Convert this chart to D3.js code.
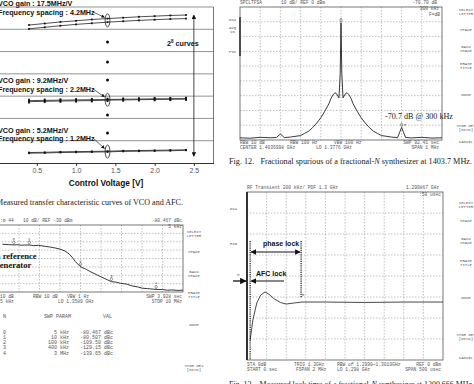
<!DOCTYPE html>
<html>
<head>
<meta charset="utf-8">
<script src="https://cdn.jsdelivr.net/npm/d3@7"></script>
<style>
  body { margin: 0; background: #fff; }
  svg { display: block; }
  .sans { font-family: "Liberation Sans", Arial, sans-serif; font-weight: bold; fill: #111; }
  .serif { font-family: "Liberation Serif", "Times New Roman", serif; fill: #222; }
  .mono { font-family: "Liberation Mono", "DejaVu Sans Mono", monospace; fill: #555; font-size: 4.6px; }
  .tick text { font-family: "Liberation Sans", Arial, sans-serif; font-size: 7px; fill: #555; }
</style>
</head>
<body>
<svg id="chart" width="474" height="384"></svg>
<script>
// ---- VCO / AFC transfer curves (top left)
var voltage = [0.4, 0.6, 0.8, 1.0, 1.2, 1.4, 1.6, 1.8, 2.0, 2.2, 2.4];
var vcoHiA  = [1619, 1626, 1633, 1638, 1644, 1648, 1652, 1656, 1659, 1662, 1664];
var vcoHiB  = [1602, 1609, 1616, 1622, 1627, 1632, 1636, 1640, 1643, 1646, 1648];
var vcoMidA = [1280, 1281, 1282, 1283, 1284, 1285, 1286, 1287, 1288, 1288, 1289];
var vcoMidB = [1275, 1277, 1278, 1279, 1280, 1282, 1283, 1284, 1285, 1286, 1287];
var vcoLoA  = [1047, 1048, 1050, 1051, 1052, 1053, 1055, 1056, 1057, 1058, 1059];
var vcoLoB  = [1044, 1045, 1047, 1048, 1049, 1050, 1052, 1053, 1054, 1055, 1057];
var skipDots = [1543, 1453, 1372, 1215, 1135];
var voltTicks = [0.5, 1.0, 1.5, 2.0, 2.5];
var gainLabels = ["VCO gain : 17.5MHz/V", "VCO gain : 9.2MHz/V", "VCO gain : 5.2MHz/V"];
var spacingLabels = ["Frequency spacing : 4.2MHz", "Frequency spacing : 2.2MHz", "Frequency spacing : 1.2MHz"];

// ---- phase noise sweep (bottom left)
var pnFreq = [3e3, 4e3, 5e3, 6e3, 7e3, 8e3, 1e4, 1.2e4, 1.5e4, 2e4, 2.5e4, 3e4, 4e4, 5e4, 6e4, 7e4, 8e4, 1e5,
              1.3e5, 1.6e5, 2e5, 2.5e5, 3e5, 4e5, 5e5, 6e5, 8e5, 1e6, 1.3e6, 1.6e6, 2e6, 3e6, 4e6, 5e6, 6e6, 8e6, 1e7];
var pnLevel = [-79.6, -80.1, -80.5, -80.2, -80.9, -80.6, -80.5, -81.4, -81.0, -82.3, -83.2, -84.1, -86.0, -88.7, -92.4, -97.5, -102.8, -109.5,
               -113.0, -116.4, -119.6, -122.8, -125.3, -129.2, -130.0, -131.4, -132.5, -134.8, -136.2, -137.9, -138.5, -139.6, -139.8, -140.6, -140.2, -140.9, -140.5];
var markFreq = [5e3, 1e4, 1e5, 4e5, 3e6];
var markLevel = [-80.467, -80.507, -109.50, -129.15, -139.65];
var markParam = ["5 kHz", "10 kHz", "100 kHz", "400 kHz", "3 MHz"];
var markVal = ["-80.467 dBc", "-80.507 dBc", "-109.50 dBc", "-129.15 dBc", "-139.65 dBc"];

// ---- fractional spurious spectrum (top right), offset kHz / dB
var spOffset = [-500, -450, -400, -350, -320, -300, -280, -250, -200, -180, -160, -140, -120, -100, -80, -60, -50, -40, -30, -20, -10, -4, 0,
                4, 10, 20, 30, 40, 50, 60, 80, 100, 120, 140, 160, 180, 200, 250, 280, 300, 320, 350, 400, 450, 500];
var spLevel = [-88.5, -88.8, -88.2, -88.5, -88.3, -86.0, -88.4, -88.0, -87.0, -85.5, -84.0, -81.5, -78.5, -75.0, -70.5, -65.5, -62.0, -59.5, -58.0, -59.0, -61.5, -45.0, -10.8,
               -45.0, -61.5, -59.0, -58.0, -59.5, -62.0, -65.5, -70.5, -75.0, -78.5, -81.5, -84.0, -85.5, -87.0, -88.0, -88.4, -81.5, -88.3, -88.6, -88.2, -88.7, -88.5];

// ---- lock transient (bottom right), time usec / freq offset kHz
var ltTime = [8, 15, 25, 35, 46, 55, 70, 85, 100, 120, 140, 200, 300, 400, 500];
var ltFreq = [-610, -419, -257, -181, -152, -171, -219, -252, -267, -257, -248, -248, -252, -248, -248];

var softKeys = [["SELECT", "LETTER"], ["SPACE"], ["BACK", "SPACE"], ["ERASE", "TITLE"], ["DONE"], ["STOR DEV", "[DISK]"], ["CANCEL"]];

var svg = d3.select("#chart");
svg.append("rect").attr("width", 474).attr("height", 384).attr("fill", "#fff");

var defs = svg.append("defs");
defs.append("marker").attr("id", "ah").attr("viewBox", "0 0 10 10")
  .attr("refX", 9).attr("refY", 5).attr("markerWidth", 5).attr("markerHeight", 5)
  .attr("orient", "auto-start-reverse")
  .append("path").attr("d", "M0,0L10,5L0,10z").attr("fill", "#111");

function txt(g, x, y, s, cls, anchor) {
  return g.append("text").attr("x", x).attr("y", y).attr("class", cls)
    .attr("text-anchor", anchor || "start").text(s);
}

function keys(g, cx, ys) {
  softKeys.forEach(function (k, i) {
    k.forEach(function (line, j) {
      txt(g, cx, ys[i] + j * 4, line, "mono", "middle").style("font-size", "4px");
    });
  });
}

function grid(g, xs, ys, x0, x1, y0, y1) {
  g.selectAll(null).data(xs).enter().append("line")
    .attr("x1", function (d) { return d; }).attr("x2", function (d) { return d; })
    .attr("y1", y0).attr("y2", y1)
    .attr("stroke", "#999").attr("stroke-width", 0.6).attr("stroke-dasharray", "1.5,1.5");
  g.selectAll(null).data(ys).enter().append("line")
    .attr("x1", x0).attr("x2", x1)
    .attr("y1", function (d) { return d; }).attr("y2", function (d) { return d; })
    .attr("stroke", "#999").attr("stroke-width", 0.6).attr("stroke-dasharray", "1.5,1.5");
  g.append("rect").attr("x", x0).attr("y", y0).attr("width", x1 - x0).attr("height", y1 - y0)
    .attr("fill", "none").attr("stroke", "#555").attr("stroke-width", 0.8);
}

// =================== VCO chart
var xV = d3.scaleLinear().domain([0, 2.75]).range([-2.4, 213.5]);
var yV = d3.scaleLinear().domain([1000, 1700]).range([163, 7]);
var g1 = svg.append("g");

g1.selectAll(null).data(d3.range(1100, 1701, 100)).enter().append("line")
  .attr("x1", xV(0)).attr("x2", xV(2.75))
  .attr("y1", function (d) { return yV(d); }).attr("y2", function (d) { return yV(d); })
  .attr("stroke", "#777").attr("stroke-width", 0.8);
g1.append("line").attr("x1", xV(2.75)).attr("x2", xV(2.75)).attr("y1", yV(1700)).attr("y2", yV(1000))
  .attr("stroke", "#555").attr("stroke-width", 0.8);

var ax = g1.append("g").attr("transform", "translate(0," + yV(1000) + ")")
  .call(d3.axisBottom(xV).tickValues(voltTicks).tickFormat(d3.format(".1f"))
    .tickSize(3).tickSizeOuter(0).tickPadding(2));
ax.select(".domain").attr("stroke", "#333");
ax.selectAll(".tick line").attr("stroke", "#333");

var vLine = d3.line().x(function (d, i) { return xV(voltage[i]); }).y(function (d) { return yV(d); });
[vcoHiA, vcoHiB, vcoMidA, vcoMidB, vcoLoA, vcoLoB].forEach(function (s, k) {
  g1.append("path").attr("d", vLine(s)).attr("fill", "none").attr("stroke", "#222").attr("stroke-width", 0.8);
  g1.selectAll(null).data(s).enter().append("rect")
    .attr("x", function (d, i) { return xV(voltage[i]) - 0.9; })
    .attr("y", function (d) { return yV(d) - (k === 2 || k === 3 ? 1.8 : 0.9); })
    .attr("width", 1.8).attr("height", k === 2 || k === 3 ? 3.6 : 1.8).attr("fill", "#111");
});

g1.selectAll(null).data(skipDots).enter().append("circle")
  .attr("cx", xV(1.4)).attr("cy", function (d) { return yV(d); }).attr("r", 1.5).attr("fill", "#111");

var pairs = [[vcoHiA, vcoHiB], [vcoMidA, vcoMidB], [vcoLoA, vcoLoB]];
var textBase = [[6, 15], [83, 92], [133, 141]];
pairs.forEach(function (p, k) {
  var cy = yV((p[0][5] + p[1][5]) / 2);
  g1.append("ellipse").attr("cx", xV(1.4)).attr("cy", cy).attr("rx", 2.4).attr("ry", 6.5)
    .attr("fill", "none").attr("stroke", "#222").attr("stroke-width", 0.8);
  txt(g1, -2, textBase[k][0], gainLabels[k], "sans").style("font-size", "7.2px");
  txt(g1, -2, textBase[k][1], spacingLabels[k], "sans").style("font-size", "7.2px");
  g1.append("line").attr("x1", 93).attr("y1", textBase[k][1] - 3)
    .attr("x2", xV(1.4) - 3).attr("y2", cy - 3)
    .attr("stroke", "#222").attr("stroke-width", 0.7).attr("marker-end", "url(#ah)");
});

g1.append("line").attr("x1", xV(2.5)).attr("x2", xV(2.5))
  .attr("y1", yV(d3.max(vcoHiA)) ).attr("y2", yV(d3.min(vcoLoB)) + 3)
  .attr("stroke", "#333").attr("stroke-width", 0.9)
  .attr("marker-start", "url(#ah)").attr("marker-end", "url(#ah)");
var c8 = g1.append("text").attr("x", 167).attr("y", 46).attr("class", "sans").style("font-size", "7.2px");
c8.append("tspan").text("2");
c8.append("tspan").attr("dy", -3).style("font-size", "4.5px").text("8");
c8.append("tspan").attr("dy", 3).text(" curves");

txt(g1, 106, 186, "Control Voltage [V]", "sans", "middle").style("font-size", "8.3px");
txt(g1, -4, 205, "Measured transfer characteristic curves of VCO and AFC.", "serif")
  .style("font-size", "8px").attr("textLength", 187).attr("lengthAdjust", "spacingAndGlyphs");

// =================== phase noise sweep
var pnX = d3.scaleLog().domain([1e3, 1e7]).range([-22, 183]);
var pnY = d3.scaleLinear().domain([-143, -54]).range([292, 225]);
var g2 = svg.append("g");
var div10 = d3.scaleLinear().domain([0, 10]).range(pnX.range());
var div8 = d3.scaleLinear().domain([0, 8]).range(pnY.range());
grid(g2, d3.range(1, 10).map(div10), d3.range(1, 8).map(div8), pnX.range()[0], pnX.range()[1], 225, 292);

g2.append("path").attr("d", d3.line().x(function (d, i) { return pnX(pnFreq[i]); }).y(function (d) { return pnY(d); })(pnLevel))
  .attr("fill", "none").attr("stroke", "#222").attr("stroke-width", 0.9);
markFreq.forEach(function (f, i) {
  var x = pnX(f), y = pnY(markLevel[i]);
  g2.append("path").attr("d", "M" + x + "," + (y - 4.5) + "l1.3,2l-1.3,2l-1.3,-2z")
    .attr("fill", "none").attr("stroke", "#333").attr("stroke-width", 0.5);
  txt(g2, x, y - 5, String(i), "mono", "middle").style("font-size", "4px");
});

txt(g2, 0, 222, ":m 44", "mono");
txt(g2, 23, 222, "10 dB/ REF -30 dBm", "mono");
txt(g2, 182, 222, "-80.467 dBc", "mono", "end");
txt(g2, 182, 227.5, "5 kHz", "mono", "end");
txt(g2, 0, 297.5, "10 dB", "mono");
txt(g2, 33, 297.5, "RBW 10 dB", "mono");
txt(g2, 67, 297.5, "VBW 1 Hz", "mono");
txt(g2, 182, 297.5, "SWP 3.928 sec", "mono", "end");
txt(g2, 0, 302.5, "5 kHz", "mono");
txt(g2, 58, 302.5, "LO 1.3589 GHz", "mono");
txt(g2, 182, 302.5, "STOP 10 MHz", "mono", "end");

txt(g2, 3, 318, "N", "mono").style("font-size", "5px");
txt(g2, 44, 318, "SWP PARAM", "mono").style("font-size", "5px");
txt(g2, 103, 318, "VAL", "mono").style("font-size", "5px");
markParam.forEach(function (p, i) {
  var y = 333.5 + i * 5.3;
  txt(g2, 3, y, String(i), "mono").style("font-size", "5px");
  txt(g2, 69, y, p, "mono", "end").style("font-size", "5px");
  txt(g2, 80, y, markVal[i], "mono").style("font-size", "5px");
});

var refT = g2.append("text").attr("class", "serif").style("font-size", "8.6px").style("font-weight", "bold").style("fill", "#111");
refT.append("tspan").attr("x", -21).attr("y", 259).text("Clean reference");
refT.append("tspan").attr("x", -4.5).attr("y", 268).text("generator");

keys(g2, 194, [233, 253, 273, 294, 326, 367, 400]);

// =================== spurious spectrum
var spX = d3.scaleLinear().domain([-500, 500]).range([240, 442]);
var spY = d3.scaleLinear().domain([-90, 0]).range([140, 7]);
var g3 = svg.append("g");
grid(g3, d3.range(-400, 500, 100).map(spX), d3.range(-80, 0, 10).map(spY), 240, 442, 7, 140);
g3.append("line").attr("x1", 240).attr("x2", 240).attr("y1", 17).attr("y2", 56)
  .attr("stroke", "#333").attr("stroke-width", 1.6);
g3.append("path").attr("d", d3.line().x(function (d, i) { return spX(spOffset[i]); }).y(function (d) { return spY(d); })(spLevel))
  .attr("fill", "none").attr("stroke", "#222").attr("stroke-width", 0.9);
g3.append("path").attr("d", "M" + spX(0) + "," + (spY(-10.8) - 5) + "l1.3,2.2l-1.3,2.2l-1.3,-2.2z")
  .attr("fill", "none").attr("stroke", "#333").attr("stroke-width", 0.5);
g3.append("path").attr("d", "M" + spX(300) + "," + (spY(-81.5) - 4.6) + "l1.2,2l-1.2,2l-1.2,-2z")
  .attr("fill", "none").attr("stroke", "#333").attr("stroke-width", 0.5);
txt(g3, spX(300) + 2.5, spY(-81.5) - 1.5, "R", "mono").style("font-size", "3.6px");
txt(g3, 385, 119, "-70.7 dB @ 300 kHz", "serif").style("font-size", "9.2px")
  .attr("textLength", 68).attr("lengthAdjust", "spacingAndGlyphs");

txt(g3, 240, 3.5, "SPCLTFSA", "mono");
txt(g3, 281, 3.5, "10 dB/ REF 0 dBm", "mono");
txt(g3, 437, 3.5, "-70.70 dB", "mono", "end");
txt(g3, 439, 10, "300 kHz", "mono", "end");
txt(g3, 440, 16, "F=dB", "mono", "end");
txt(g3, 229, 21, "DCa", "mono").style("font-size", "4px");
txt(g3, 229, 29, "Avg", "mono").style("font-size", "4px");
txt(g3, 230, 33, "16", "mono").style("font-size", "4px");
txt(g3, 229, 53, "Pos", "mono").style("font-size", "4px");
txt(g3, 240, 144, "RBW 10 dB", "mono");
txt(g3, 290, 144, "RBW 100 Hz", "mono");
txt(g3, 334, 144, "VBW 100 Hz", "mono");
txt(g3, 439, 144, "SWP 92.41 sec", "mono", "end");
txt(g3, 240, 148.5, "CENTER 1.4036998 GHz", "mono");
txt(g3, 316, 148.5, "LO 1.3776 GHz", "mono");
txt(g3, 439, 148.5, "SPAN 1 MHz", "mono", "end");
keys(g3, 466, [11, 31, 48, 65, 96, 127, 143]);

var cap12 = g3.append("text").attr("x", 229).attr("y", 164).attr("class", "serif").style("font-size", "8px")
  .attr("textLength", 243).attr("lengthAdjust", "spacingAndGlyphs");
cap12.append("tspan").text("Fig. 12.\u00a0\u00a0\u00a0Fractional spurious of a fractional-");
cap12.append("tspan").style("font-style", "italic").text("N");
cap12.append("tspan").text(" synthesizer at 1403.7 MHz.");

// =================== lock transient
var ltX = d3.scaleLinear().domain([0, 500]).range([247, 443]);
var ltY = d3.scaleLinear().domain([-800, 800]).range([360, 192]);
var g4 = svg.append("g");
grid(g4, d3.range(50, 500, 50).map(ltX), d3.range(-600, 800, 200).map(ltY), 247, 443, 192, 360);
g4.append("line").attr("x1", 247).attr("x2", 247).attr("y1", 192).attr("y2", 360)
  .attr("stroke", "#111").attr("stroke-width", 1.6);
g4.append("path").attr("d", d3.line().x(function (d, i) { return ltX(ltTime[i]); }).y(function (d) { return ltY(d); })(ltFreq))
  .attr("fill", "none").attr("stroke", "#333").attr("stroke-width", 0.9);

var tAfc = ltTime[0], tPhase = 138;
g4.append("line").attr("x1", ltX(tAfc)).attr("x2", ltX(tAfc)).attr("y1", 241).attr("y2", 360)
  .attr("stroke", "#111").attr("stroke-width", 1.2).attr("stroke-dasharray", "1.2,1");
g4.append("line").attr("x1", ltX(tPhase)).attr("x2", ltX(tPhase)).attr("y1", 241).attr("y2", ltY(-248) - 4)
  .attr("stroke", "#111").attr("stroke-width", 1.2).attr("stroke-dasharray", "1.2,1");
g4.append("line").attr("x1", ltX(tAfc) + 1).attr("x2", ltX(tPhase) - 1).attr("y1", 252).attr("y2", 252)
  .attr("stroke", "#111").attr("stroke-width", 1.1)
  .attr("marker-start", "url(#ah)").attr("marker-end", "url(#ah)");
txt(g4, 263, 246, "phase lock", "sans").style("font-size", "7px");
txt(g4, 256, 276, "AFC lock", "sans").style("font-size", "7px");
g4.append("line").attr("x1", 284).attr("x2", ltX(tAfc) + 1).attr("y1", 281).attr("y2", 281)
  .attr("stroke", "#111").attr("stroke-width", 1.1).attr("marker-end", "url(#ah)");
g4.append("line").attr("x1", 233).attr("x2", 246).attr("y1", 281).attr("y2", 281)
  .attr("stroke", "#111").attr("stroke-width", 1.3).attr("marker-end", "url(#ah)");
txt(g4, ltX(tPhase) + 1, ltY(-248) - 6, "R", "mono").style("font-size", "4px");

txt(g4, 247, 188.5, "RF Transient  200 kHz/ PDF 1.3 GHz", "mono");
txt(g4, 439, 188.5, "1.299867 GHz", "mono", "end");
txt(g4, 441, 196, ":50 usec", "mono", "end");
txt(g4, 230, 210, "DCa", "mono").style("font-size", "4px");
txt(g4, 230, 245, "Hi0", "mono").style("font-size", "4px");
txt(g4, 237, 276, "M", "mono").style("font-size", "4px");
txt(g4, 247, 365.5, "STA 0dB", "mono");
txt(g4, 294, 365.5, "TRIG 1.3GHz", "mono");
txt(g4, 337, 365.5, "RBW of 1.2990~1.3010GHz", "mono");
txt(g4, 441, 365.5, "REF 0 dBm", "mono", "end");
txt(g4, 247, 370.5, "START 0 sec", "mono");
txt(g4, 296, 370.5, "FSPAN 2 MHz", "mono");
txt(g4, 337, 370.5, "LO 1.298 GHz", "mono");
txt(g4, 441, 370.5, "SPAN 500 usec", "mono", "end");
keys(g4, 466, [204, 222, 240, 262, 299, 336, 359]);

var cap13 = g4.append("text").attr("x", 229).attr("y", 387).attr("class", "serif").style("font-size", "8px")
  .attr("textLength", 245).attr("lengthAdjust", "spacingAndGlyphs");
cap13.append("tspan").text("Fig. 13.\u00a0\u00a0\u00a0Measured lock time of a fractional-");
cap13.append("tspan").style("font-style", "italic").text("N");
cap13.append("tspan").text(" synthesizer at 1200.666 MHz.");
</script>
</body>
</html>
